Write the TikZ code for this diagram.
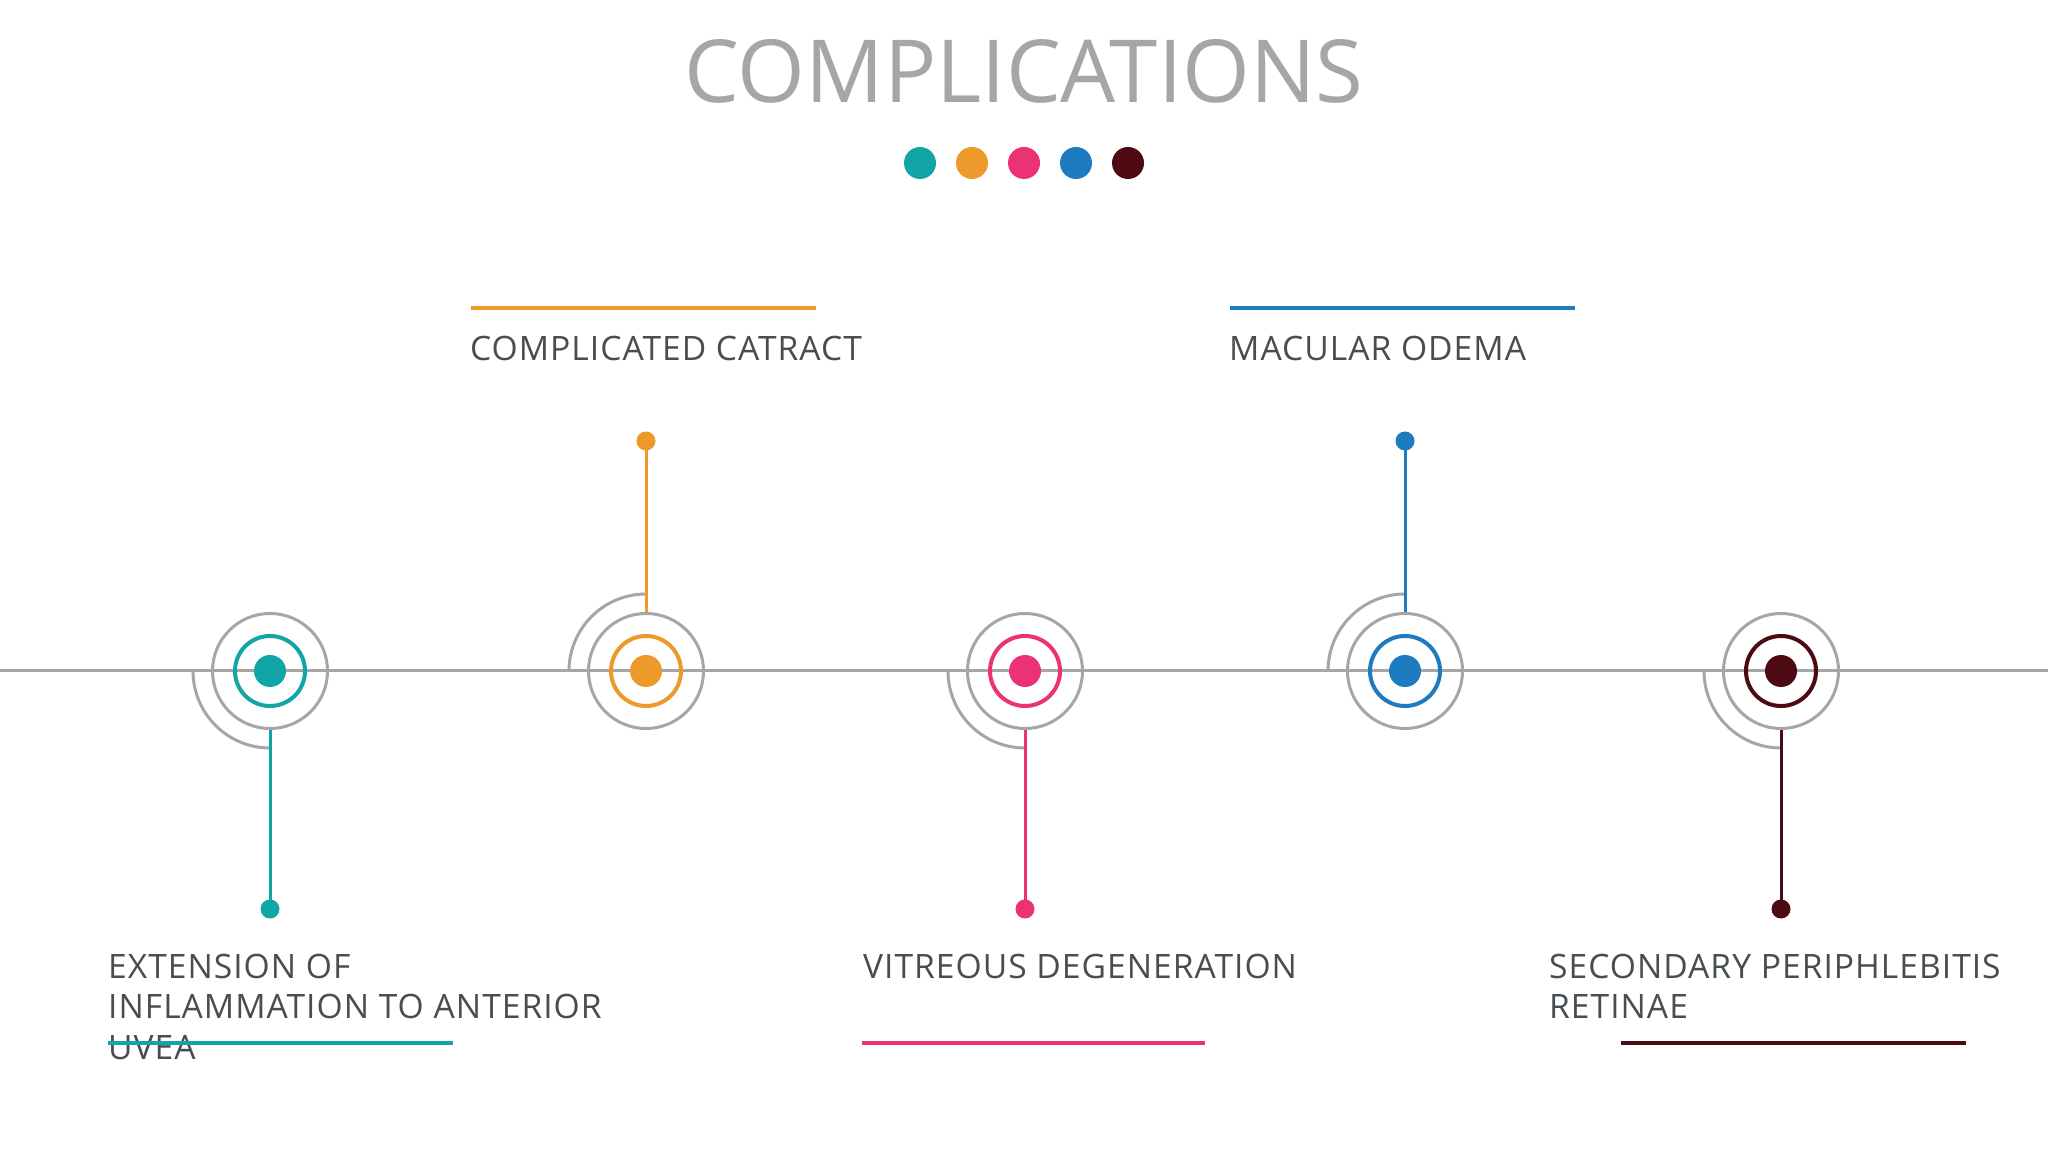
\documentclass[tikz,border=0pt]{standalone}
\usepackage{fontspec}
\setmainfont{Open Sans}
\definecolor{cteal}{HTML}{12A5A5}
\definecolor{corange}{HTML}{EE9A2A}
\definecolor{cpink}{HTML}{EB3275}
\definecolor{cblue}{HTML}{1F7BBF}
\definecolor{cmaroon}{HTML}{4E0A12}
\definecolor{cgray}{HTML}{A6A6A6}
\definecolor{ctext}{HTML}{484D52}
\newfontfamily\lblfont[LetterSpace=3]{Open Sans}
\begin{document}
\begin{tikzpicture}[x=1pt,y=1pt,
  outerc/.style={circle,draw=cgray,line width=3pt,minimum size=115pt,inner sep=0pt},
  ringc/.style={circle,draw=#1,line width=4pt,minimum size=70pt,inner sep=0pt},
  corec/.style={circle,fill=#1,minimum size=32pt,inner sep=0pt},
  enddot/.style={circle,fill=#1,minimum size=19pt,inner sep=0pt},
  hdot/.style={circle,fill=#1,minimum size=32pt,inner sep=0pt},
  stem/.style={draw=#1,line width=3pt},
  arcl/.style={draw=cgray,line width=3pt},
  bar/.style={draw=#1,line width=3.5pt},
  lbl/.style={font=\lblfont\fontsize{33.6}{40.5}\selectfont,text=ctext,inner sep=0pt,anchor=base west,align=left},
]
\useasboundingbox (0,0) rectangle (2048,1152);
\fill[white] (0,0) rectangle (2048,1152);

% title and dots
\node[font=\fontsize{87}{100}\selectfont,text=cgray,inner sep=0pt,anchor=base] (title) at (1024,1049) {COMPLICATIONS};
\node[hdot=cteal] (d1) at (920,989) {};
\node[hdot=corange] (d2) at (972,989) {};
\node[hdot=cpink] (d3) at (1024,989) {};
\node[hdot=cblue] (d4) at (1076,989) {};
\node[hdot=cmaroon] (d5) at (1128,989) {};

% timeline
\coordinate (L) at (0,481);
\coordinate (R) at (2048,481);
\draw[draw=cgray,line width=3pt] (L) -- (R);

% milestone 1 (teal, down)
\node[outerc] (o1) at (270,481) {};
\node[ringc=cteal] (r1) at (270,481) {};
\node[corec=cteal] (c1) at (270,481) {};
\node[enddot=cteal] (e1) at (270,243) {};
\draw[arcl] ([xshift=-77pt]o1.center) arc[start angle=180,end angle=270,radius=77pt];
\draw[stem=cteal] (o1.south) -- (e1.center);

% milestone 2 (orange, up)
\node[outerc] (o2) at (646,481) {};
\node[ringc=corange] (r2) at (646,481) {};
\node[corec=corange] (c2) at (646,481) {};
\node[enddot=corange] (e2) at (646,711) {};
\draw[arcl] ([xshift=-77pt]o2.center) arc[start angle=180,end angle=90,radius=77pt];
\draw[stem=corange] (o2.north) -- (e2.center);

% milestone 3 (pink, down)
\node[outerc] (o3) at (1025,481) {};
\node[ringc=cpink] (r3) at (1025,481) {};
\node[corec=cpink] (c3) at (1025,481) {};
\node[enddot=cpink] (e3) at (1025,243) {};
\draw[arcl] ([xshift=-77pt]o3.center) arc[start angle=180,end angle=270,radius=77pt];
\draw[stem=cpink] (o3.south) -- (e3.center);

% milestone 4 (blue, up)
\node[outerc] (o4) at (1405,481) {};
\node[ringc=cblue] (r4) at (1405,481) {};
\node[corec=cblue] (c4) at (1405,481) {};
\node[enddot=cblue] (e4) at (1405,711) {};
\draw[arcl] ([xshift=-77pt]o4.center) arc[start angle=180,end angle=90,radius=77pt];
\draw[stem=cblue] (o4.north) -- (e4.center);

% milestone 5 (maroon, down)
\node[outerc] (o5) at (1781,481) {};
\node[ringc=cmaroon] (r5) at (1781,481) {};
\node[corec=cmaroon] (c5) at (1781,481) {};
\node[enddot=cmaroon] (e5) at (1781,243) {};
\draw[arcl] ([xshift=-77pt]o5.center) arc[start angle=180,end angle=270,radius=77pt];
\draw[stem=cmaroon] (o5.south) -- (e5.center);

% top labels
\coordinate (b2a) at (471,844); \coordinate (b2b) at (816,844);
\draw[bar=corange] (b2a) -- (b2b);
\node[lbl] (t2) at (470,791) {COMPLICATED CATRACT};
\coordinate (b4a) at (1230,844); \coordinate (b4b) at (1575,844);
\draw[bar=cblue] (b4a) -- (b4b);
\node[lbl] (t4) at (1229,791) {MACULAR ODEMA};

% bottom labels
\node[lbl] (t1) at (108,93) {EXTENSION OF\\INFLAMMATION TO ANTERIOR\\UVEA};
\coordinate (b1a) at (108,109); \coordinate (b1b) at (453,109);
\draw[bar=cteal] (b1a) -- (b1b);
\node[lbl] (t3) at (863,174) {VITREOUS DEGENERATION};
\coordinate (b3a) at (862,109); \coordinate (b3b) at (1205,109);
\draw[bar=cpink] (b3a) -- (b3b);
\node[lbl] (t5) at (1549,133.5) {SECONDARY PERIPHLEBITIS\\RETINAE};
\coordinate (b5a) at (1621,109); \coordinate (b5b) at (1966,109);
\draw[bar=cmaroon] (b5a) -- (b5b);
\end{tikzpicture}
\end{document}
